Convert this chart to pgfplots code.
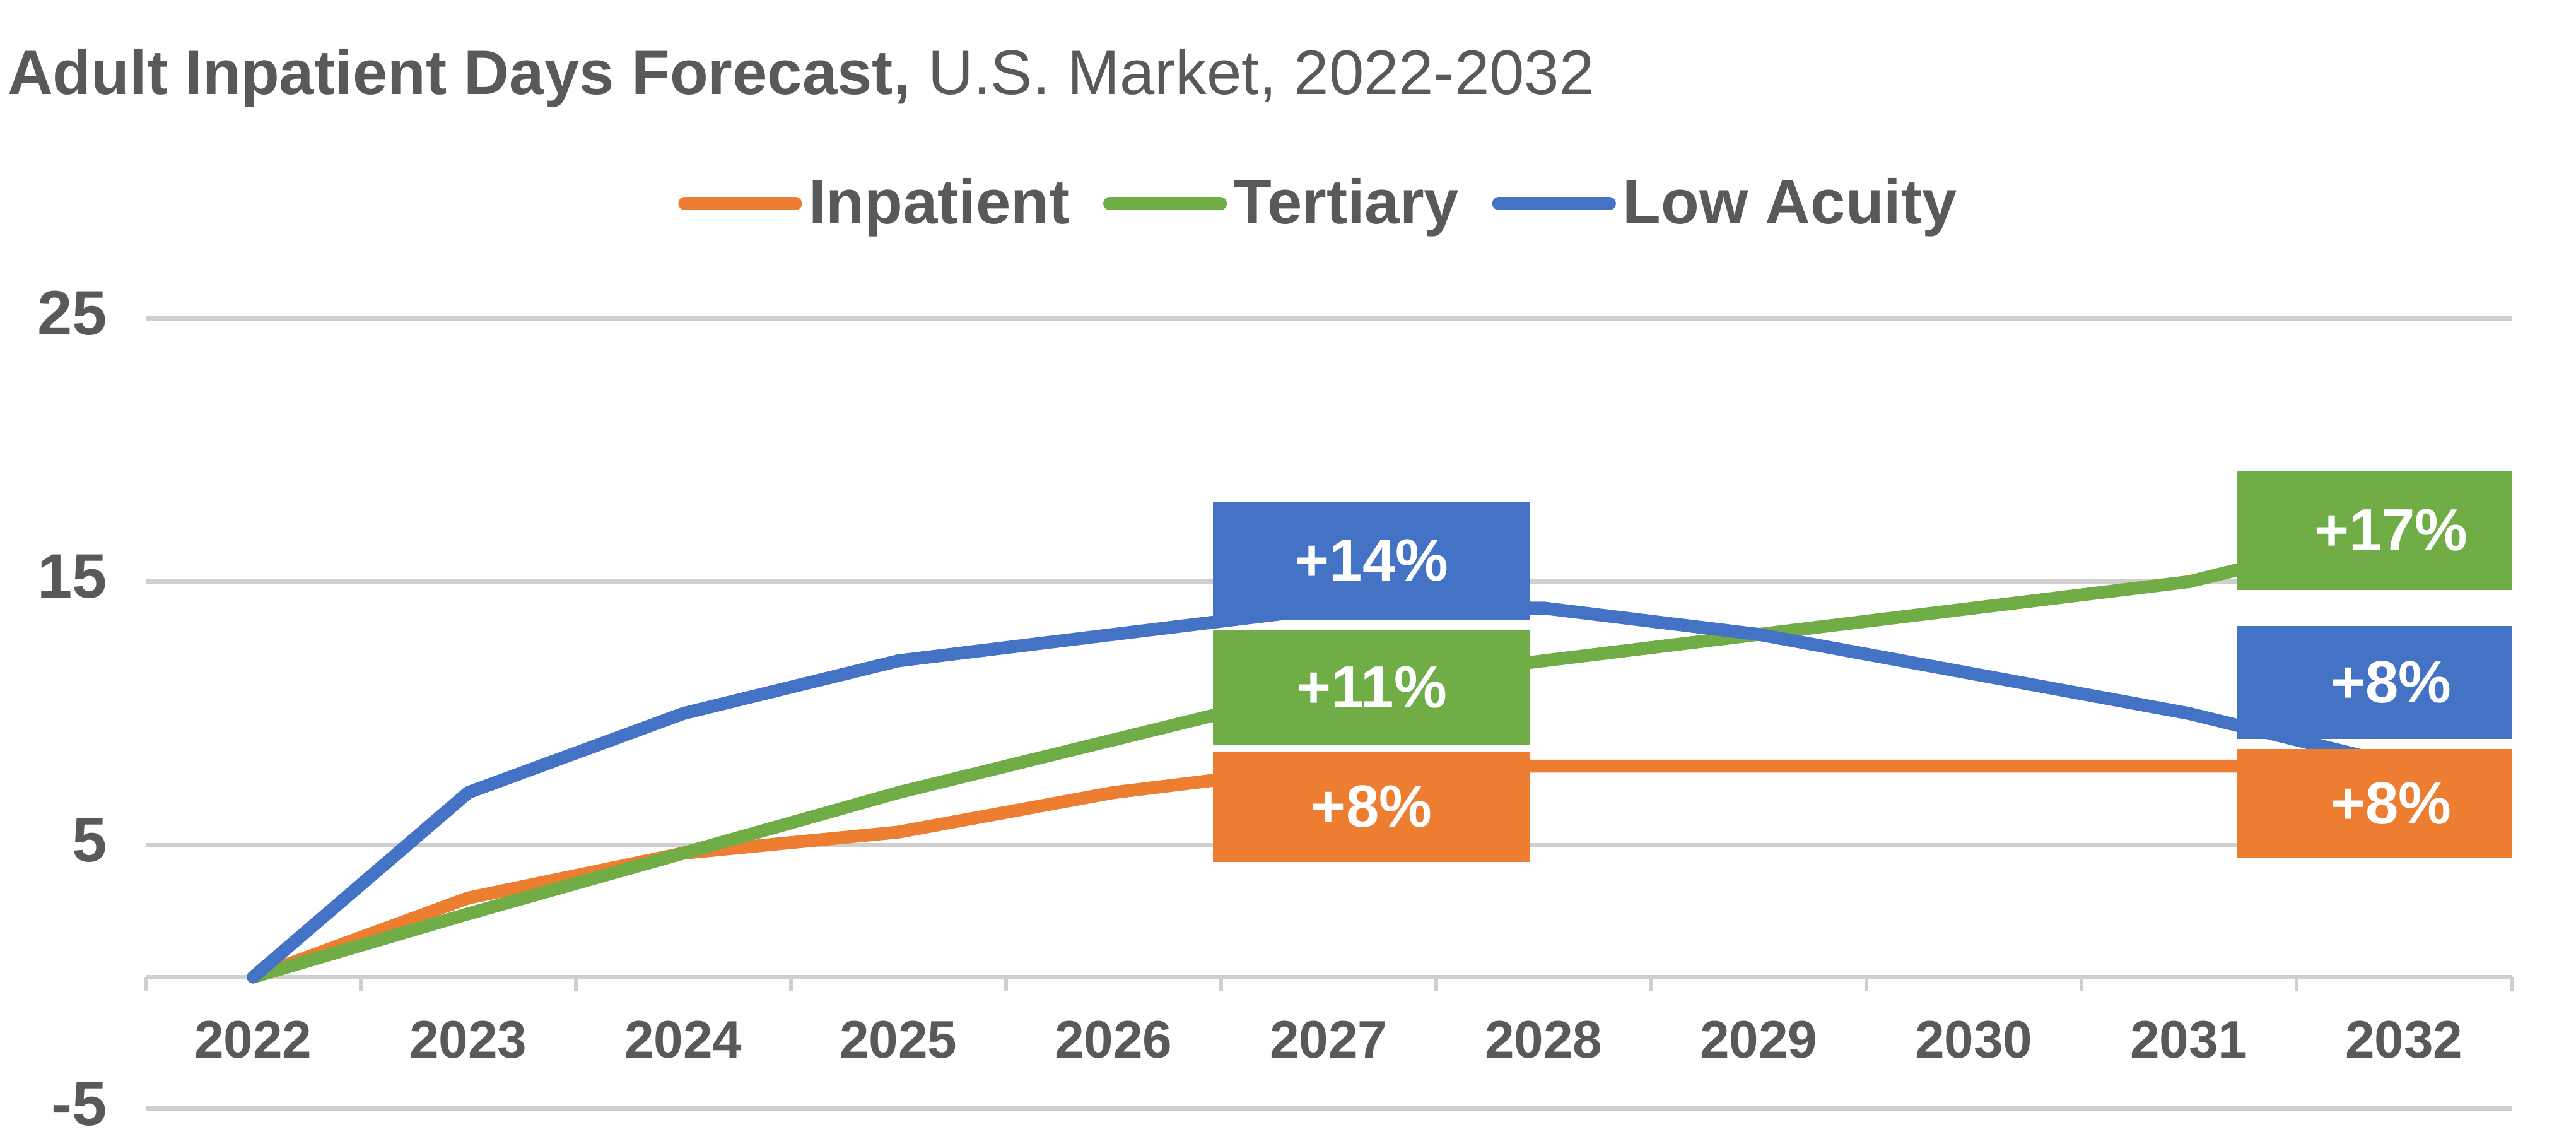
\documentclass[border=0pt]{standalone}
\usepackage{fontspec}
\setmainfont{Liberation Sans}
\usepackage{pgfplots}
\pgfplotsset{compat=1.18}

\definecolor{cOrange}{HTML}{ED7D31}
\definecolor{cGreen}{HTML}{70AD47}
\definecolor{cBlue}{HTML}{4472C4}
\definecolor{cText}{HTML}{595959}
\definecolor{cGrid}{HTML}{D0CECE}

\tikzset{box/.style={minimum width=96pt, inner sep=0pt, text=white,
    font=\fontsize{18}{20}\selectfont\bfseries}}

\begin{document}
\begin{tikzpicture}
\begin{axis}[
  at={(44.1pt,9.1pt)}, anchor=south west,
  scale only axis, width=716.4pt, height=239.3pt,
  xmin=-0.5, xmax=10.5, ymin=-5, ymax=25,
  axis x line*=middle, axis y line*=left,
  y axis line style={draw=none},
  x axis line style={line width=1.4pt, draw=cGrid},
  xtick={0,...,10},
  xticklabels={2022,2023,2024,2025,2026,2027,2028,2029,2030,2031,2032},
  minor xtick={-0.5,0.5,...,10.5},
  major x tick style={draw=none},
  tick align=outside,
  minor tick length=4.4pt,
  minor x tick style={line width=1.1pt, draw=cGrid},
  ytick={-5,5,15,25}, yticklabels={-5,5,15,25},
  ytick style={draw=none},
  ymajorgrids, grid style={line width=1.4pt, draw=cGrid},
  xticklabel style={anchor=north, inner sep=0pt, yshift=-8.9pt, text=cText,
    font=\fontsize{16}{19}\selectfont\bfseries},
  yticklabel style={anchor=east, inner sep=0pt, xshift=-7.2pt, yshift=1.5pt, text=cText,
    font=\fontsize{19}{22}\selectfont\bfseries},
  legend style={draw=none, fill=none, legend columns=-1,
    at={(0.4968,1.145)}, anchor=center,
    font=\fontsize{19}{22}\selectfont\bfseries, text=cText,
    /tikz/every even column/.append style={column sep=8pt}},
  legend image code/.code={\draw[#1, line width=4pt, line cap=round] (2pt,0pt) -- (35.5pt,0pt);},
  every axis plot/.append style={line width=3.9pt, line join=round, line cap=round},
]
\addplot[cOrange] coordinates {(0,0) (1,3.0) (2,4.7) (3,5.5) (4,7.0) (5,8.0) (6,8.0) (7,8.0) (8,8.0) (9,8.0) (10,8.0)};
\addlegendentry{Inpatient}
\addplot[cGreen] coordinates {(0,0) (1,2.4) (2,4.7) (3,7.0) (4,9.0) (5,11.0) (6,12.0) (7,13.0) (8,14.0) (9,15.0) (10,17.0)};
\addlegendentry{Tertiary}
\addplot[cBlue] coordinates {(0,0) (1,7.0) (2,10.0) (3,12.0) (4,13.0) (5,14.0) (6,14.0) (7,13.0) (8,11.5) (9,10.0) (10,8.0)};
\addlegendentry{Low Acuity}

\node[box, fill=cBlue, minimum height=35.7pt] at (axis cs:5.2,15.8) {+14\%};
\node[box, fill=cGreen, minimum height=34.7pt] at (axis cs:5.2,11.0) {+11\%};
\node[box, fill=cOrange, minimum height=33.4pt] at (axis cs:5.2,6.46) {+8\%};
\node[box, fill=cGreen, minimum width=93.5pt, minimum height=36pt] at (axis cs:9.94,16.95) {+17\%};
\node[box, fill=cBlue, minimum width=93.5pt, minimum height=34.2pt] at (axis cs:9.94,11.18) {+8\%};
\node[box, fill=cOrange, minimum width=93.5pt, minimum height=33pt] at (axis cs:9.94,6.58) {+8\%};
\end{axis}

\node[anchor=base west, inner sep=0pt, text=cText, font=\fontsize{19}{22}\selectfont]
  at (2.1pt,316.2pt) {\textbf{Adult Inpatient Days Forecast,} U.S. Market, 2022-2032};

\pgfresetboundingbox
\path[use as bounding box] (0,0) rectangle (780pt,344.7pt);
\end{tikzpicture}
\end{document}
